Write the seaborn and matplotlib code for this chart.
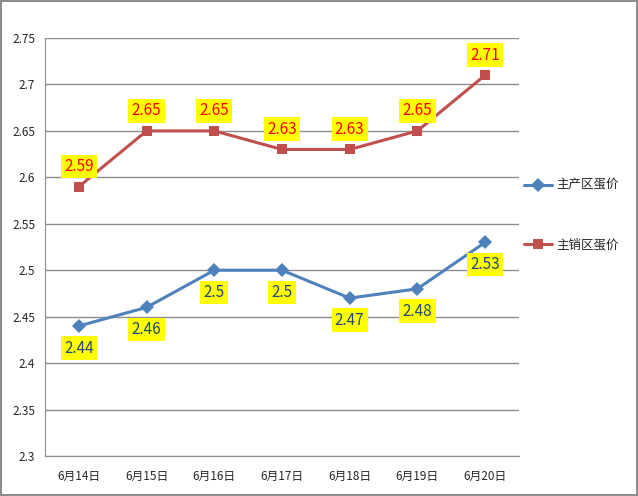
import matplotlib
matplotlib.use('Agg')
import matplotlib.pyplot as plt
import seaborn as sns
import pandas as pd

# data
dates = ['6月14日', '6月15日', '6月16日', '6月17日', '6月18日', '6月19日', '6月20日']
producer = [2.44, 2.46, 2.50, 2.50, 2.47, 2.48, 2.53]
consumer = [2.59, 2.65, 2.65, 2.63, 2.63, 2.65, 2.71]
producer_labels = ['2.44', '2.46', '2.5', '2.5', '2.47', '2.48', '2.53']
consumer_labels = ['2.59', '2.65', '2.65', '2.63', '2.63', '2.65', '2.71']
y_ticks = [2.3, 2.35, 2.4, 2.45, 2.5, 2.55, 2.6, 2.65, 2.7, 2.75]
y_tick_labels = ['2.3', '2.35', '2.4', '2.45', '2.5', '2.55', '2.6', '2.65', '2.7', '2.75']

sns.set_style('white')
plt.rcParams['font.family'] = ['Noto Sans CJK SC', 'DejaVu Sans']

df = pd.DataFrame({'idx': list(range(len(dates))) * 2,
                   'price': producer + consumer,
                   'series': ['主产区蛋价'] * len(dates) + ['主销区蛋价'] * len(dates)})

fig = plt.figure(figsize=(6.38, 4.96), dpi=100)
fig.patch.set_edgecolor('#8c8c8c')
fig.patch.set_linewidth(1.5)
ax = fig.add_axes([45 / 638, 1 - 456 / 496, 474 / 638, 418 / 496])

palette = {'主产区蛋价': '#4F81BD', '主销区蛋价': '#C0504D'}
markers = {'主产区蛋价': 'D', '主销区蛋价': 's'}
sns.lineplot(data=df, x='idx', y='price', hue='series', style='series',
             palette=palette, markers=markers, dashes=False, linewidth=2.2,
             markersize=7, markeredgewidth=0, ax=ax)

ax.set_xlim(-0.5, len(dates) - 0.5)
ax.set_ylim(2.3, 2.75)
ax.set_yticks(y_ticks)
ax.set_yticklabels(y_tick_labels, fontsize=8.5)
ax.set_xticks(range(len(dates)))
ax.set_xticklabels(dates, fontsize=8.5)
ax.set_xticks([i - 0.5 for i in range(len(dates) + 1)], minor=True)
ax.tick_params(axis='x', which='major', length=0, pad=10)
ax.tick_params(axis='x', which='minor', length=4, color='#8c8c8c')
ax.tick_params(axis='y', length=4, color='#8c8c8c', pad=3)
ax.set_xlabel('')
ax.set_ylabel('')
ax.grid(axis='y', color='#8c8c8c', linewidth=1)
for side in ['top', 'right']:
    ax.spines[side].set_visible(False)
for side in ['left', 'bottom']:
    ax.spines[side].set_color('#8c8c8c')

box = dict(boxstyle='square,pad=0.22', facecolor='#FFFF00', edgecolor='none')
for i, (v, t) in enumerate(zip(consumer, consumer_labels)):
    ax.annotate(t, (i, v), xytext=(0, 14.5), textcoords='offset points',
                ha='center', va='center', color='#FF0000', fontsize=11, bbox=box)
for i, (v, t) in enumerate(zip(producer, producer_labels)):
    ax.annotate(t, (i, v), xytext=(0, -16), textcoords='offset points',
                ha='center', va='center', color='#1F497D', fontsize=11, bbox=box)

handles, labels = ax.get_legend_handles_labels()
ax.legend_.remove()
fig.legend(handles, labels, loc='center left', bbox_to_anchor=(513 / 638, 1 - 215 / 496),
           frameon=False, fontsize=9, labelspacing=3.7, handlelength=2.2, handletextpad=0.4)

fig.savefig('out.png', dpi=100, edgecolor=fig.get_edgecolor())
